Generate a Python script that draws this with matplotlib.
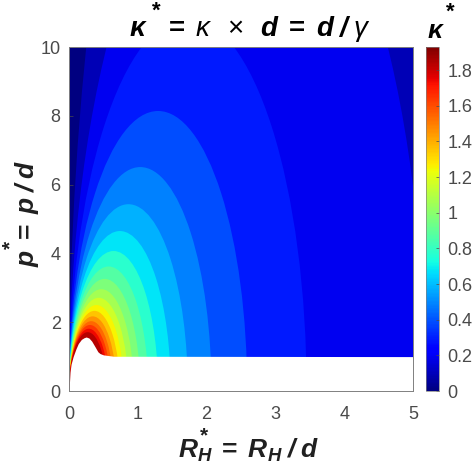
import numpy as np
import matplotlib
matplotlib.use("Agg")
import matplotlib.pyplot as plt
from matplotlib.patches import Ellipse
from matplotlib.cm import ScalarMappable
from matplotlib.colors import Normalize

plt.rcParams['font.family'] = ['Liberation Sans', 'DejaVu Sans']
plt.rcParams['mathtext.fontset'] = 'custom'
plt.rcParams['mathtext.rm'] = 'Liberation Sans'
plt.rcParams['mathtext.it'] = 'Liberation Sans:italic'
plt.rcParams['mathtext.bf'] = 'Liberation Sans:bold'
plt.rcParams['mathtext.bfit'] = 'Liberation Sans:italic:bold'

# contour levels and where each arc peaks (r, p)
levels = [0.0965, 0.193, 0.2895, 0.386, 0.4825, 0.579, 0.6755, 0.772, 0.8685, 0.965,
          1.0615, 1.158, 1.2545, 1.351, 1.4475, 1.544, 1.6405, 1.737, 1.8335]
peak_r = [5.18, 2.59, 1.727, 1.295, 1.036, 0.864, 0.74, 0.648, 0.576, 0.518,
          0.471, 0.432, 0.399, 0.37, 0.345, 0.324, 0.305, 0.288, 0.273]
peak_p = [32.55, 16.28, 10.85, 8.14, 6.51, 5.43, 4.65, 4.07, 3.62, 3.26,
          2.96, 2.71, 2.5, 2.33, 2.17, 2.03, 1.92, 1.81, 1.71]

# upper edge of the white region
white_r = [0, 0.015, 0.03, 0.06, 0.10, 0.135, 0.18, 0.22, 0.25, 0.29, 0.33, 0.38, 0.42, 0.45, 0.50, 0.65, 5]
white_p = [0, 0.55, 0.78, 1.0, 1.22, 1.38, 1.5, 1.55, 1.57, 1.54, 1.45, 1.28, 1.14, 1.09, 1.05, 1.01, 1.0]

x_ticks = [0, 1, 2, 3, 4, 5]
y_ticks = [0, 2, 4, 6, 8, 10]
cbar_ticks = [0, 0.2, 0.4, 0.6, 0.8, 1, 1.2, 1.4, 1.6, 1.8]
cbar_labels = ['0', '0.2', '0.4', '0.6', '0.8', '1', '1.2', '1.4', '1.6', '1.8']
kappa_max = 1.93

W, H = 474, 476
gray = '#4a4a4a'

fig = plt.figure(figsize=(W / 100, H / 100), dpi=100)
ax = fig.add_axes([69 / W, 1 - 391 / H, 344 / W, 344 / H])
norm = Normalize(0, kappa_max)
cmap = plt.get_cmap('jet')

ax.set_facecolor(cmap(norm(0)))
for lev, r, p in zip(levels, peak_r, peak_p):
    ax.add_patch(Ellipse((r, 0), 2 * r, 2 * p, facecolor=cmap(norm(lev)), edgecolor='none'))

ax.fill_between(white_r, 0, white_p, color='white', lw=0, zorder=3)

ax.set_xlim(0, 5)
ax.set_ylim(0, 10)
ax.set_xticks(x_ticks)
ax.set_yticks(y_ticks)
ax.tick_params(direction='in', length=3, width=0.5, colors=gray, labelsize=13, pad=6)
ax.tick_params(axis='x', pad=11)
for s in ax.spines.values():
    s.set_linewidth(0.7)
    s.set_color('#808080')
    s.set_zorder(5)

cax = fig.add_axes([426 / W, 1 - 391 / H, 13 / W, 344 / H])
cb = fig.colorbar(ScalarMappable(norm=norm, cmap=cmap), cax=cax, ticks=cbar_ticks)
cb.ax.set_yticklabels(cbar_labels)
cb.ax.tick_params(direction='in', length=2, width=0.5, colors=gray, labelsize=13, pad=6)
cb.outline.set_linewidth(0.5)
cb.outline.set_edgecolor('#808080')

# title and axis names, the stars sit well above the letters so they are placed on their own
fig.text(250 / W, 1 - 29 / H,
         r'$\mathbfit{\kappa}\;\;\;\mathbf{=}\;\mathit{\kappa}\;\;\times\;\;\mathbfit{d}\;\mathbf{=}\;\mathbfit{d}\;\mathbfit{/}\;\mathit{\gamma}$',
         fontsize=20, ha='center', va='center', color='black')
fig.text(249 / W, 1 - 450 / H,
         r'$\mathbfit{R}_{\mathbfit{H}}\;\mathbf{=}\;\mathbfit{R}_{\mathbfit{H}}\;\mathbfit{/}\;\mathbfit{d}$',
         fontsize=19, ha='center', va='center', color='#202020')
fig.text(27 / W, 1 - 213 / H,
         r'$\mathbfit{p}\;\mathbf{=}\;\mathbfit{p}\;\mathbfit{/}\;\mathbfit{d}$',
         fontsize=19, ha='center', va='center', rotation=90, color='#202020')
fig.text(436 / W, 1 - 31 / H, r'$\mathbfit{\kappa}$', fontsize=19, ha='center', va='center', color='black')

fig.text(156 / W, 1 - 11 / H, '*', fontsize=16, fontweight='bold', ha='center', va='center')
fig.text(450 / W, 1 - 12 / H, '*', fontsize=16, fontweight='bold', ha='center', va='center')
fig.text(204 / W, 1 - 436 / H, '*', fontsize=15, fontweight='bold', ha='center', va='center', color='#202020')
fig.text(11 / W, 1 - 245 / H, '*', fontsize=15, fontweight='bold', ha='center', va='center', rotation=90, color='#202020')

fig.savefig('out.png', dpi=100)
